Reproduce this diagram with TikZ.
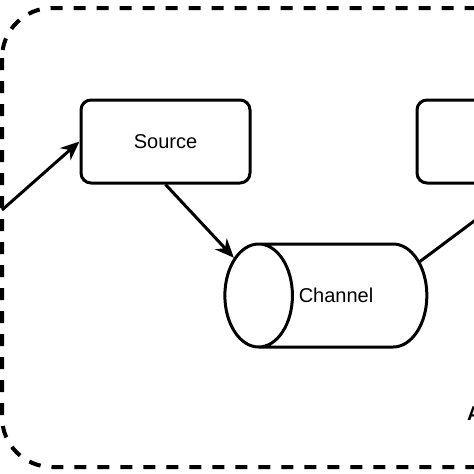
\documentclass[tikz,border=0pt]{standalone}
\usepackage{fontspec}
\setmainfont{Liberation Sans}
\usetikzlibrary{arrows.meta,shapes.geometric}
\tikzset{
  box/.style={draw, line width=3pt, rounded corners=10pt, minimum width=169pt, minimum height=83pt, inner sep=0pt, font=\fontsize{20}{24}\selectfont},
  can/.style={draw, cylinder, shape border rotate=180, line width=3pt, minimum width=103pt, minimum height=202pt, shape aspect=4.6, inner sep=0pt, font=\fontsize{20}{24}\selectfont},
  link/.style={line width=3pt},
  tip/.style={-{Stealth[length=19pt,width=16pt,inset=6pt]}},
  frame/.style={line width=4pt, dash pattern=on 12pt off 11pt, rounded corners=50pt}
}
\begin{document}
\begin{tikzpicture}[x=1pt,y=1pt,yscale=-1]
\useasboundingbox (0,0) rectangle (474,474);
\clip (0,0) rectangle (474,474);

%Shape: Rounded Rect (dashed frame)
\draw[frame] (2,8) rectangle (700,467);
\coordinate (frameL) at (2,210);

%Shape: Rectangle
\node[box] (src) at (165.5,141.5) {Source};
%Shape: Rectangle
\node[box, minimum width=212pt] (dst) at (523,141.5) {};
%Shape: Can
\node[can] (chan) at (343.5,295.5) {Channel\hspace*{15pt}};

% Text Node
\node[anchor=base west, inner sep=0pt, font=\fontsize{20}{24}\selectfont\bfseries] (who) at (467,420) {A};

%Straight Lines
\draw[link,tip] (frameL) -- (src.west);
%Straight Lines
\draw[link,tip] (src.south) -- (chan.161);
%Straight Lines
\draw[link] (chan.24) -- (dst.south);
\end{tikzpicture}
\end{document}
